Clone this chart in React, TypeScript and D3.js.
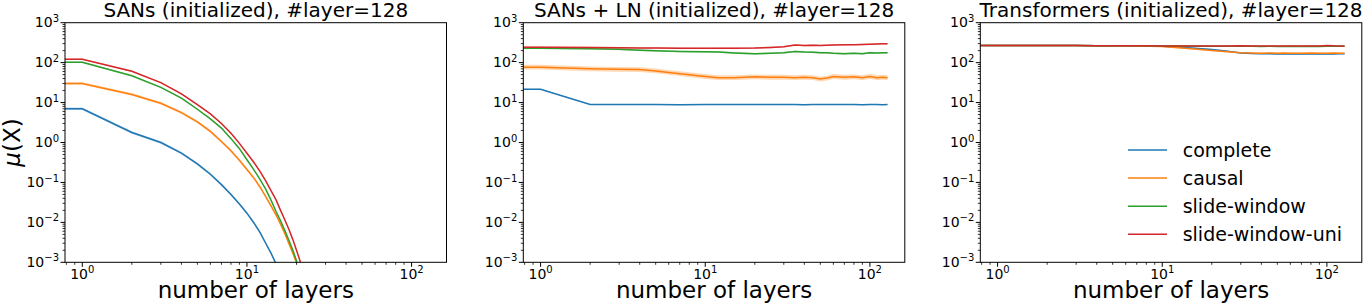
import React, { useEffect, useRef } from 'react';
import * as d3 from 'd3';

// series
const seriesNames = ['complete', 'causal', 'slide-window', 'slide-window-uni'];
const colors = ['#1f77b4', '#ff7f0e', '#2ca02c', '#d62728'];

const titles = [
  'SANs (initialized), #layer=128',
  'SANs + LN (initialized), #layer=128',
  'Transformers (initialized), #layer=128',
];

// panel 1: SANs, one value per layer (below 1e-3 gets clipped)
const sanLayers = [0, 1, 2, 3, 4, 5, 6, 7, 8, 9, 10, 11, 12, 13, 14, 15, 16, 17, 18, 19, 20, 21, 22];
const sanComplete = [7.0, 7.0, 1.78, 1.0, 0.54, 0.29, 0.16, 0.088, 0.05, 0.029, 0.017, 0.0098, 0.0056, 0.003, 0.0017, 0.00092, 0.0005, 0.00026, 0.00014, 0.00007, 0.000036, 0.000018, 0.000009];
const sanCausal = [30, 30, 16, 9.6, 5.6, 3.3, 1.9, 1.06, 0.62, 0.36, 0.21, 0.13, 0.077, 0.044, 0.026, 0.0155, 0.009, 0.0052, 0.0029, 0.0017, 0.00098, 0.00055, 0.0003];
const sanSlide = [102, 102, 47, 24, 12.9, 6.8, 3.9, 2.3, 1.25, 0.7, 0.37, 0.21, 0.12, 0.068, 0.036, 0.019, 0.011, 0.0062, 0.0035, 0.002, 0.0011, 0.0006, 0.00033];
const sanSlideUni = [122, 122, 61, 31.6, 16.6, 8.9, 5.2, 3.0, 1.7, 0.95, 0.54, 0.32, 0.19, 0.11, 0.062, 0.037, 0.02, 0.0115, 0.0066, 0.0037, 0.002, 0.0011, 0.0006];
const sanSpread = [0.07, 0.08, 0.04, 0.04];

// panels 2 and 3: sampled layers
const layers = [0, 1, 2, 3, 4, 5, 7, 10, 12, 15, 20, 25, 30, 35, 40, 45, 50, 55, 60, 70, 80, 90, 100, 110, 120, 128];

const lnComplete = [21.5, 21.5, 9.0, 8.9, 8.9, 8.9, 8.8, 8.9, 8.9, 8.9, 8.9, 8.9, 8.9, 8.9, 8.8, 8.9, 8.9, 8.9, 8.9, 8.9, 8.9, 8.8, 8.9, 8.9, 8.8, 8.9];
const lnCausal = [77, 77, 70, 68, 67, 62, 53, 45, 42, 42, 44, 43, 43, 42, 43, 42, 39, 41, 45, 43, 44, 42, 45, 42, 43, 42];
const lnSlide = [229, 229, 224, 215, 205, 198, 190, 186, 185, 175, 166, 172, 178, 190, 185, 183, 178, 176, 172, 168, 172, 168, 178, 174, 176, 178];
const lnSlideUni = [243, 243, 240, 236, 233, 232, 230, 228, 229, 230, 232, 240, 250, 275, 268, 272, 270, 274, 278, 280, 282, 285, 290, 292, 295, 295];
const lnSpread = [0.03, 0.15, 0.05, 0.04];

const tfComplete = [268, 268, 268, 267, 266, 265, 264, 258, 246, 232, 212, 192, 175, 170, 168, 166, 165, 167, 165, 164, 168, 165, 166, 165, 166, 166];
const tfCausal = [268, 268, 268, 267, 266, 265, 262, 252, 240, 222, 202, 186, 176, 174, 173, 174, 172, 174, 173, 172, 174, 173, 172, 174, 173, 173];
const tfSlide = [268, 268, 268, 267, 266, 265, 264, 262, 260, 259, 258, 258, 256, 257, 255, 256, 254, 255, 256, 254, 256, 255, 257, 256, 257, 257];
const tfSlideUni = [268, 268, 268, 267, 266, 265, 264, 262, 261, 261, 260, 262, 264, 260, 261, 260, 262, 261, 260, 261, 260, 261, 268, 263, 261, 261];
const tfSpread = [0.03, 0.03, 0.03, 0.03];

// ticks
const xTickValues = [1, 10, 100];
const xTickExp = ['0', '1', '2'];
const yTickValues = [1e-3, 1e-2, 1e-1, 1, 10, 100, 1000];
const yTickExp = ['\u22123', '\u22122', '\u22121', '0', '1', '2', '3'];

const panels = [
  { x: sanLayers, ys: [sanComplete, sanCausal, sanSlide, sanSlideUni], spread: sanSpread },
  { x: layers, ys: [lnComplete, lnCausal, lnSlide, lnSlideUni], spread: lnSpread },
  { x: layers, ys: [tfComplete, tfCausal, tfSlide, tfSlideUni], spread: tfSpread },
];

export default function App() {
  const ref = useRef<SVGSVGElement>(null);

  useEffect(() => {
    const svg = d3.select(ref.current);
    svg.selectAll('*').remove();

    // layout
    const top = 22.7;
    const width = 381.5;
    const height = 239.6;
    const lefts = [65, 523.3, 980.3];
    const font = 'DejaVu Sans';

    // scales (matplotlib log axis with 5% margins on 1..128)
    const xScale = d3.scaleLog()
      .domain([Math.pow(10, -0.105), Math.pow(10, 2.212)])
      .range([0, width]);
    const yScale = d3.scaleLog()
      .domain([1e-3, 1e3])
      .range([height, 0]);

    // minor ticks
    const xMinor: number[] = [];
    const yMinor: number[] = [];
    [0.1, 1, 10, 100].forEach(b => {
      for (let k = 2; k <= 9; k++) {
        const v = b * k;
        if (v >= xScale.domain()[0] && v <= xScale.domain()[1]) xMinor.push(v);
      }
    });
    [1e-3, 1e-2, 1e-1, 1, 10, 100].forEach(b => {
      for (let k = 2; k <= 9; k++) yMinor.push(b * k);
    });

    panels.forEach((p, i) => {
      const g = svg.append('g').attr('transform', `translate(${lefts[i]},${top})`);

      g.append('clipPath').attr('id', `clip${i}`)
        .append('rect').attr('width', width).attr('height', height);

      const plot = g.append('g').attr('clip-path', `url(#clip${i})`);
      const xOf = (l: number) => xScale(Math.max(l, 1e-3));

      p.ys.forEach((vals, s) => {
        const pts = p.x.map((l, k) => ({ l, v: vals[k] }));
        const sp = p.spread[s];
        const area = d3.area<{ l: number; v: number }>()
          .x(d => xOf(d.l))
          .y0(d => yScale(d.v / (1 + sp)))
          .y1(d => yScale(d.v * (1 + sp)));
        plot.append('path')
          .datum(pts)
          .attr('d', area)
          .style('fill', colors[s])
          .style('fill-opacity', 0.3);
      });

      p.ys.forEach((vals, s) => {
        const pts = p.x.map((l, k) => ({ l, v: vals[k] }));
        const line = d3.line<{ l: number; v: number }>()
          .x(d => xOf(d.l))
          .y(d => yScale(d.v));
        plot.append('path')
          .datum(pts)
          .attr('d', line)
          .style('fill', 'none')
          .style('stroke', colors[s])
          .style('stroke-width', 1.5);
      });

      // frame
      g.append('rect')
        .attr('width', width).attr('height', height)
        .style('fill', 'none').style('stroke', '#000').style('stroke-width', 1);

      // x ticks
      xMinor.forEach(v => {
        g.append('line')
          .attr('x1', xScale(v)).attr('x2', xScale(v))
          .attr('y1', height).attr('y2', height + 2.5)
          .style('stroke', '#000').style('stroke-width', 0.8);
      });
      xTickValues.forEach((v, k) => {
        g.append('line')
          .attr('x1', xScale(v)).attr('x2', xScale(v))
          .attr('y1', height).attr('y2', height + 4.5)
          .style('stroke', '#000').style('stroke-width', 1);
        const t = g.append('text')
          .attr('x', xScale(v)).attr('y', height + 16.7)
          .attr('text-anchor', 'middle')
          .style('font-family', font).style('font-size', '14px').style('fill', '#000');
        t.append('tspan').text('10');
        t.append('tspan').attr('dy', -5.5).style('font-size', '10px').text(xTickExp[k]);
      });

      // y ticks
      yMinor.forEach(v => {
        g.append('line')
          .attr('x1', 0).attr('x2', -2.5)
          .attr('y1', yScale(v)).attr('y2', yScale(v))
          .style('stroke', '#000').style('stroke-width', 0.8);
      });
      yTickValues.forEach((v, k) => {
        g.append('line')
          .attr('x1', 0).attr('x2', -4.5)
          .attr('y1', yScale(v)).attr('y2', yScale(v))
          .style('stroke', '#000').style('stroke-width', 1);
        const t = g.append('text')
          .attr('x', -6).attr('y', yScale(v) + 4.6)
          .attr('text-anchor', 'end')
          .style('font-family', font).style('font-size', '14px').style('fill', '#000');
        t.append('tspan').text('10');
        t.append('tspan').attr('dy', -5.5).style('font-size', '10px').text(yTickExp[k]);
      });

      // title
      g.append('text')
        .attr('x', width / 2).attr('y', -5.8)
        .attr('text-anchor', 'middle')
        .style('font-family', font).style('font-size', '20px').style('fill', '#000')
        .text(titles[i]);

      // x label
      g.append('text')
        .attr('x', width / 2).attr('y', height + 35.5)
        .attr('text-anchor', 'middle')
        .style('font-family', font).style('font-size', '23px').style('fill', '#000')
        .text('number of layers');

      // y label
      if (i === 0) {
        const yl = svg.append('text')
          .attr('transform', `translate(20,${top + height / 2}) rotate(-90)`)
          .attr('text-anchor', 'middle')
          .style('font-family', font).style('font-size', '23px').style('fill', '#000');
        yl.append('tspan').style('font-style', 'italic').text('\u03bc');
        yl.append('tspan').text('(X)');
      }

      // legend
      if (i === 2) {
        seriesNames.forEach((name, s) => {
          const ly = 127.3 + s * 28.1;
          g.append('line')
            .attr('x1', 147.7).attr('x2', 186.7)
            .attr('y1', ly).attr('y2', ly)
            .style('stroke', colors[s]).style('stroke-width', 1.5);
          g.append('text')
            .attr('x', 202.4).attr('y', ly + 6.6)
            .style('font-family', font).style('font-size', '19px').style('fill', '#000')
            .text(name);
        });
      }
    });
  }, []);

  return (
    <div>
      <svg
        ref={ref}
        width={1366}
        height={308}
        style={{ position: 'absolute', left: 0, top: 0, background: '#fff' }}
      />
    </div>
  );
}
